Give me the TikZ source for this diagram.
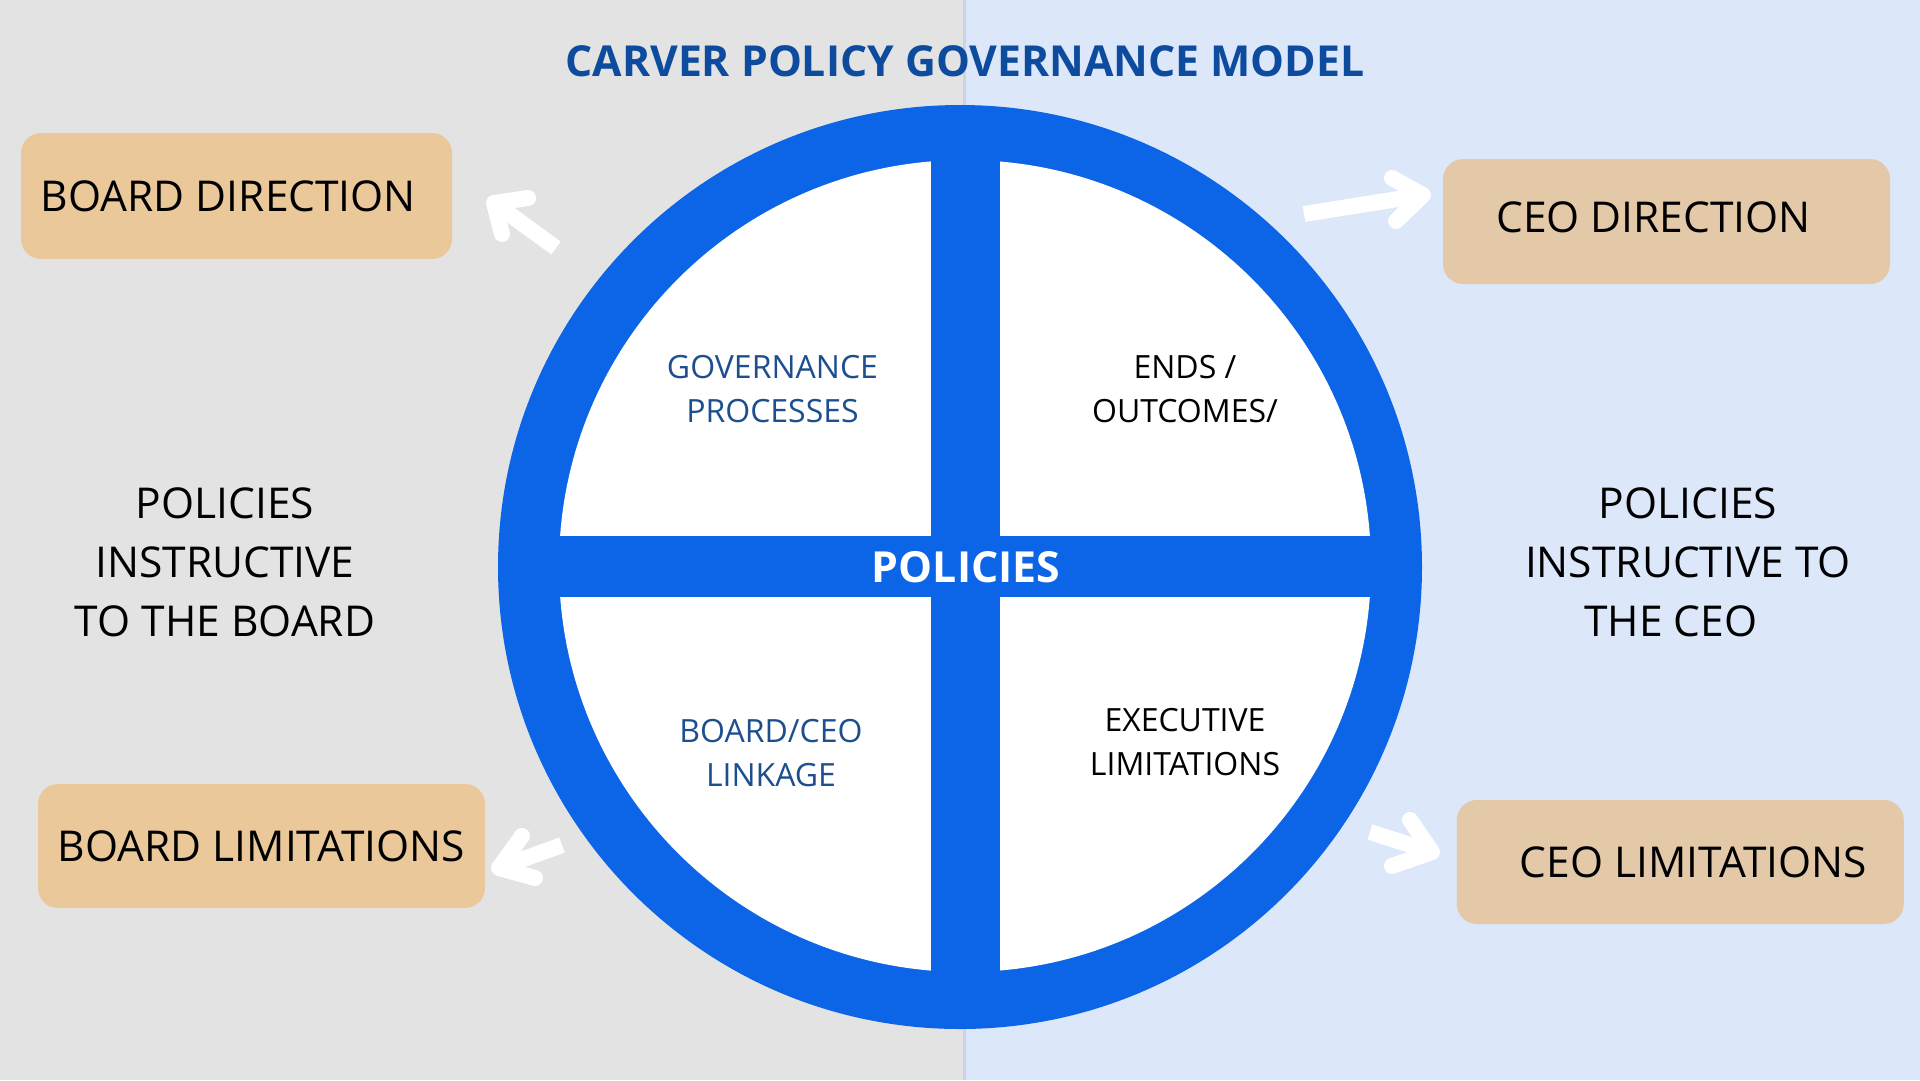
\documentclass[tikz,border=0pt]{standalone}
\usepackage{fontspec}
\setmainfont{Open Sans}
\definecolor{bgL}{HTML}{E3E3E3}
\definecolor{bgR}{HTML}{DCE7F9}
\definecolor{divider}{HTML}{C9D4E6}
\definecolor{cblue}{HTML}{0C64E6}
\definecolor{boxL}{HTML}{EAC89A}
\definecolor{boxR}{HTML}{E3C9A8}
\definecolor{titleblue}{HTML}{0D4B9E}
\definecolor{qblue}{HTML}{1D4E8E}
\begin{document}
\begin{tikzpicture}[x=1pt,y=-1pt,
  bigtxt/.style={font=\fontsize{42.5}{58.8}\selectfont, align=center, inner sep=0pt, text=black},
  qtxt/.style={font=\fontsize{32}{44}\selectfont, align=center, inner sep=0pt},
  boxnode/.style={rounded corners=20pt, inner sep=0pt, font=\fontsize{42.5}{50}\selectfont, text=black},
  warrow/.style={draw=white, line width=16pt},
  whead/.style={draw=white, line width=16pt, line cap=round, line join=round}]
\useasboundingbox (0,0) rectangle (1920,1080);
% backgrounds
\fill[bgL] (0,0) rectangle (964,1080);
\fill[bgR] (964,0) rectangle (1920,1080);
\fill[divider] (962.5,0) rectangle (965.5,1080);
% wheel
\fill[cblue] (960,567) circle[radius=462pt];
\fill[white] (965,566) circle[radius=406pt];
\fill[cblue] (931,130) rectangle (1000,1005);
\fill[cblue] (530,535.7) rectangle (1400,597);
% title
\node[font=\bfseries\fontsize{42.7}{50}\selectfont, text=titleblue, inner sep=0pt] (title) at (965,61) {CARVER POLICY GOVERNANCE MODEL};
% centre label
\node[font=\bfseries\fontsize{42.8}{50}\selectfont, text=white, inner sep=0pt] (pol) at (966,567) {POLICIES};
% quadrant texts
\node[qtxt, text=qblue] (q1) at (772.5,388.6) {GOVERNANCE\\PROCESSES};
\node[qtxt, text=black] (q2) at (1185,388.6) {ENDS /\\OUTCOMES/};
\node[qtxt, text=qblue] (q3) at (771,753.3) {BOARD/CEO\\LINKAGE};
\node[qtxt, text=black] (q4) at (1185,742.5) {EXECUTIVE\\LIMITATIONS};
% side texts
\node[bigtxt] (sideL) at (225,562) {POLICIES\\INSTRUCTIVE\\TO THE BOARD};
\node[bigtxt] (sideR) at (1688,562) {POLICIES\\INSTRUCTIVE TO\\THE CEO\kern34pt};
% boxes
\node[boxnode, fill=boxL, minimum width=431pt, minimum height=126pt] (bdir) at (236.5,196) {BOARD DIRECTION\kern16pt};
\node[boxnode, fill=boxR, minimum width=447pt, minimum height=125pt, text depth=8pt] (cdir) at (1666.5,221.5) {CEO DIRECTION\kern26pt};
\node[boxnode, fill=boxL, minimum width=447pt, minimum height=124pt] (blim) at (261.5,846) {BOARD LIMITATIONS};
\node[boxnode, fill=boxR, minimum width=447pt, minimum height=124pt] (clim) at (1680.25,862) {\kern26pt CEO LIMITATIONS};
% arrows
\coordinate (a1s) at (556,248); \coordinate (a1t) at (494,203);
\coordinate (a1l) at (528,198); \coordinate (a1r) at (502,234);
\coordinate (a2s) at (1304,214); \coordinate (a2t) at (1423,195);
\coordinate (a2l) at (1392,178); \coordinate (a2r) at (1396,221);
\coordinate (a3s) at (562,845); \coordinate (a3t) at (499,868);
\coordinate (a3l) at (522,836); \coordinate (a3r) at (535,878);
\coordinate (a4s) at (1370,832); \coordinate (a4t) at (1432,852);
\coordinate (a4l) at (1410,820); \coordinate (a4r) at (1392,866);
\foreach \i in {1,2,3,4}{
  \draw[warrow] (a\i s) -- (a\i t);
  \draw[whead] (a\i l) -- (a\i t) -- (a\i r);
}
\end{tikzpicture}
\end{document}
